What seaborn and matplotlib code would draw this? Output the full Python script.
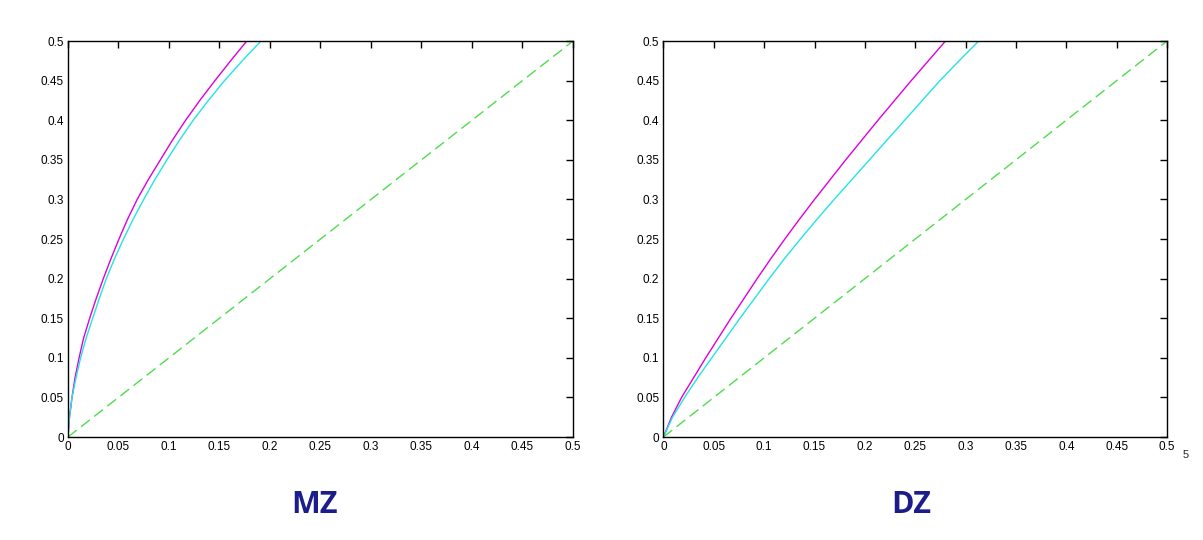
"""Two MZ / DZ curve panels in the old MATLAB look."""
import matplotlib

matplotlib.use("Agg")
import matplotlib.pyplot as plt
import matplotlib.ticker as mticker
import seaborn as sns

y_grid = [0.0, 0.025, 0.05, 0.075, 0.1, 0.125, 0.15, 0.175, 0.2, 0.225, 0.25,
          0.275, 0.3, 0.325, 0.35, 0.375, 0.4, 0.425, 0.45, 0.475, 0.5]

# MZ panel: x position of each curve at the y values above
mz_magenta = [0.0, 0.0015, 0.004, 0.007, 0.011, 0.0155, 0.0215, 0.028, 0.035,
              0.0425, 0.0505, 0.059, 0.0685, 0.0795, 0.0915, 0.1035, 0.1165,
              0.1305, 0.1455, 0.161, 0.177]
mz_cyan = [0.0, 0.0015, 0.004, 0.008, 0.0125, 0.018, 0.0245, 0.031, 0.038,
           0.046, 0.055, 0.0645, 0.075, 0.086, 0.098, 0.1105, 0.124, 0.139,
           0.155, 0.1725, 0.191]

# DZ panel
dz_magenta = [0.0, 0.008, 0.018, 0.030, 0.042, 0.0545, 0.067, 0.080, 0.093,
              0.1065, 0.1205, 0.135, 0.150, 0.1655, 0.181, 0.197, 0.213,
              0.2295, 0.246, 0.263, 0.280]
dz_cyan = [0.0, 0.009, 0.021, 0.034, 0.048, 0.062, 0.076, 0.0905, 0.105, 0.120,
           0.136, 0.1525, 0.1695, 0.187, 0.2045, 0.222, 0.2395, 0.257, 0.2745,
           0.2935, 0.313]

# reference diagonal
diag = [0.0, 0.5]

ticks = [0, 0.05, 0.1, 0.15, 0.2, 0.25, 0.3, 0.35, 0.4, 0.45, 0.5]
panel_names = ["MZ", "DZ"]

sns.set_style("white")
plt.rcParams["font.family"] = ["Liberation Sans", "DejaVu Sans"]

fig = plt.figure(figsize=(12.03, 5.4), dpi=100)
ax1 = fig.add_axes([0.0565, 0.1907, 0.4198, 0.7333])
ax2 = fig.add_axes([0.5515, 0.1907, 0.4186, 0.7333])

panels = [(ax1, mz_magenta, mz_cyan), (ax2, dz_magenta, dz_cyan)]
for ax, mag, cya in panels:
    sns.lineplot(x=mag, y=y_grid, sort=False, estimator=None, color="#dd00dd",
                 linewidth=1.0, ax=ax)
    sns.lineplot(x=cya, y=y_grid, sort=False, estimator=None, color="#22e4e4",
                 linewidth=1.0, ax=ax)
    ax.plot(diag, diag, color="#4ddd4d", linewidth=1.0, linestyle=(0, (8, 4)))
    ax.set_xlim(0, 0.5)
    ax.set_ylim(0, 0.5)
    ax.set_xticks(ticks)
    ax.set_yticks(ticks)
    fmt = mticker.FormatStrFormatter("%g")
    ax.xaxis.set_major_formatter(fmt)
    ax.yaxis.set_major_formatter(fmt)
    ax.tick_params(direction="in", length=5, width=1, top=True, right=True,
                   labelsize=8.5, colors="black", pad=3)
    for s in ax.spines.values():
        s.set_visible(True)
        s.set_color("black")
        s.set_linewidth(1.0)

fig.text(315 / 1203, 1 - 505 / 540, panel_names[0], ha="center", va="center",
         fontsize=22, fontweight="bold", color="#1c1c8a", family="Open Sans")
fig.text(911 / 1203, 1 - 505 / 540, panel_names[1], ha="center", va="center",
         fontsize=22, fontweight="bold", color="#1c1c8a", family="Open Sans")
fig.text(1186 / 1203, 1 - 455 / 540, "5", ha="center", va="center", fontsize=8)

fig.savefig("out.png", dpi=100)
